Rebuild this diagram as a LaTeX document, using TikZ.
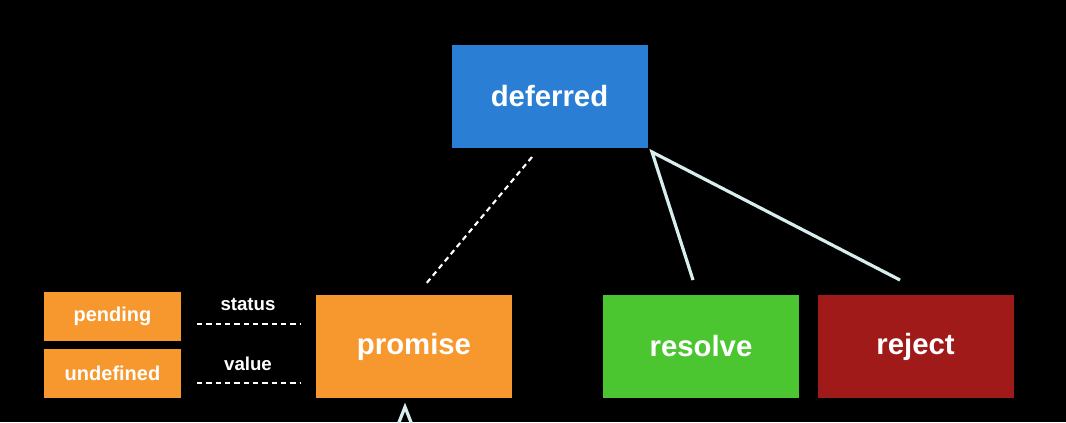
\documentclass[tikz,border=0pt]{standalone}
\usepackage{fontspec}
\setmainfont{Liberation Sans}
\definecolor{defblue}{HTML}{2A7FD4}
\definecolor{promorange}{HTML}{F7982E}
\definecolor{resgreen}{HTML}{4CC630}
\definecolor{rejred}{HTML}{A01A1A}
\definecolor{chalk}{HTML}{D8EEEE}
\tikzset{
  box/.style={draw=none,inner sep=0pt,text=white,font=\bfseries\fontsize{22}{26}\selectfont},
  smallbox/.style={box,fill=promorange,minimum width=102.75pt,minimum height=36.75pt,font=\bfseries\fontsize{15}{18}\selectfont},
  bigbox/.style={box,minimum width=147pt,minimum height=77.25pt},
  tag/.style={text=white,font=\bfseries\fontsize{14}{17}\selectfont},
  link/.style={white,dashed,line width=1.6pt,dash pattern=on 4pt off 3pt},
  stroke/.style={chalk,line width=2.4pt}
}
\begin{document}
\begin{tikzpicture}[x=0.75pt,y=-0.75pt]
\fill[black] (0,0) rectangle (1066,422);
\useasboundingbox (0,0) rectangle (1066,422);
\clip (0,0) rectangle (1066,422);
\node[bigbox,fill=defblue] (deferred) at (549.5,96.5) {deferred};
\node[bigbox,fill=promorange] (promise) at (414,346.5) {promise};
\node[bigbox,fill=resgreen] (resolve) at (701,346.5) {resolve};
\node[bigbox,fill=rejred] (reject) at (915.5,346.5) {reject};
\node[smallbox] (pending) at (112.5,316.5) {pending};
\node[smallbox] (undefined) at (112.5,373) {undefined};
\node[tag] (status) at (248,304) {status};
\node[tag] (value) at (248,364) {value};
% connectors
\coordinate (stl) at (197,324); \coordinate (str) at (300,324);
\coordinate (vll) at (197,383); \coordinate (vlr) at (300,383);
\draw[link] (stl) -- (str);
\draw[link] (vll) -- (vlr);
\coordinate (dtop) at (532,157); \coordinate (ptop) at (425,285);
\draw[link] (dtop) -- (ptop);
\coordinate (corner) at (652,152);
\coordinate (resend) at (693,280);
\coordinate (rejend) at (900,280);
\draw[stroke] (resend) -- (corner) -- (rejend);
\coordinate (pbot) at (405,407);
\draw[stroke] (392,440) -- (pbot) -- (418,440);
\end{tikzpicture}
\end{document}
